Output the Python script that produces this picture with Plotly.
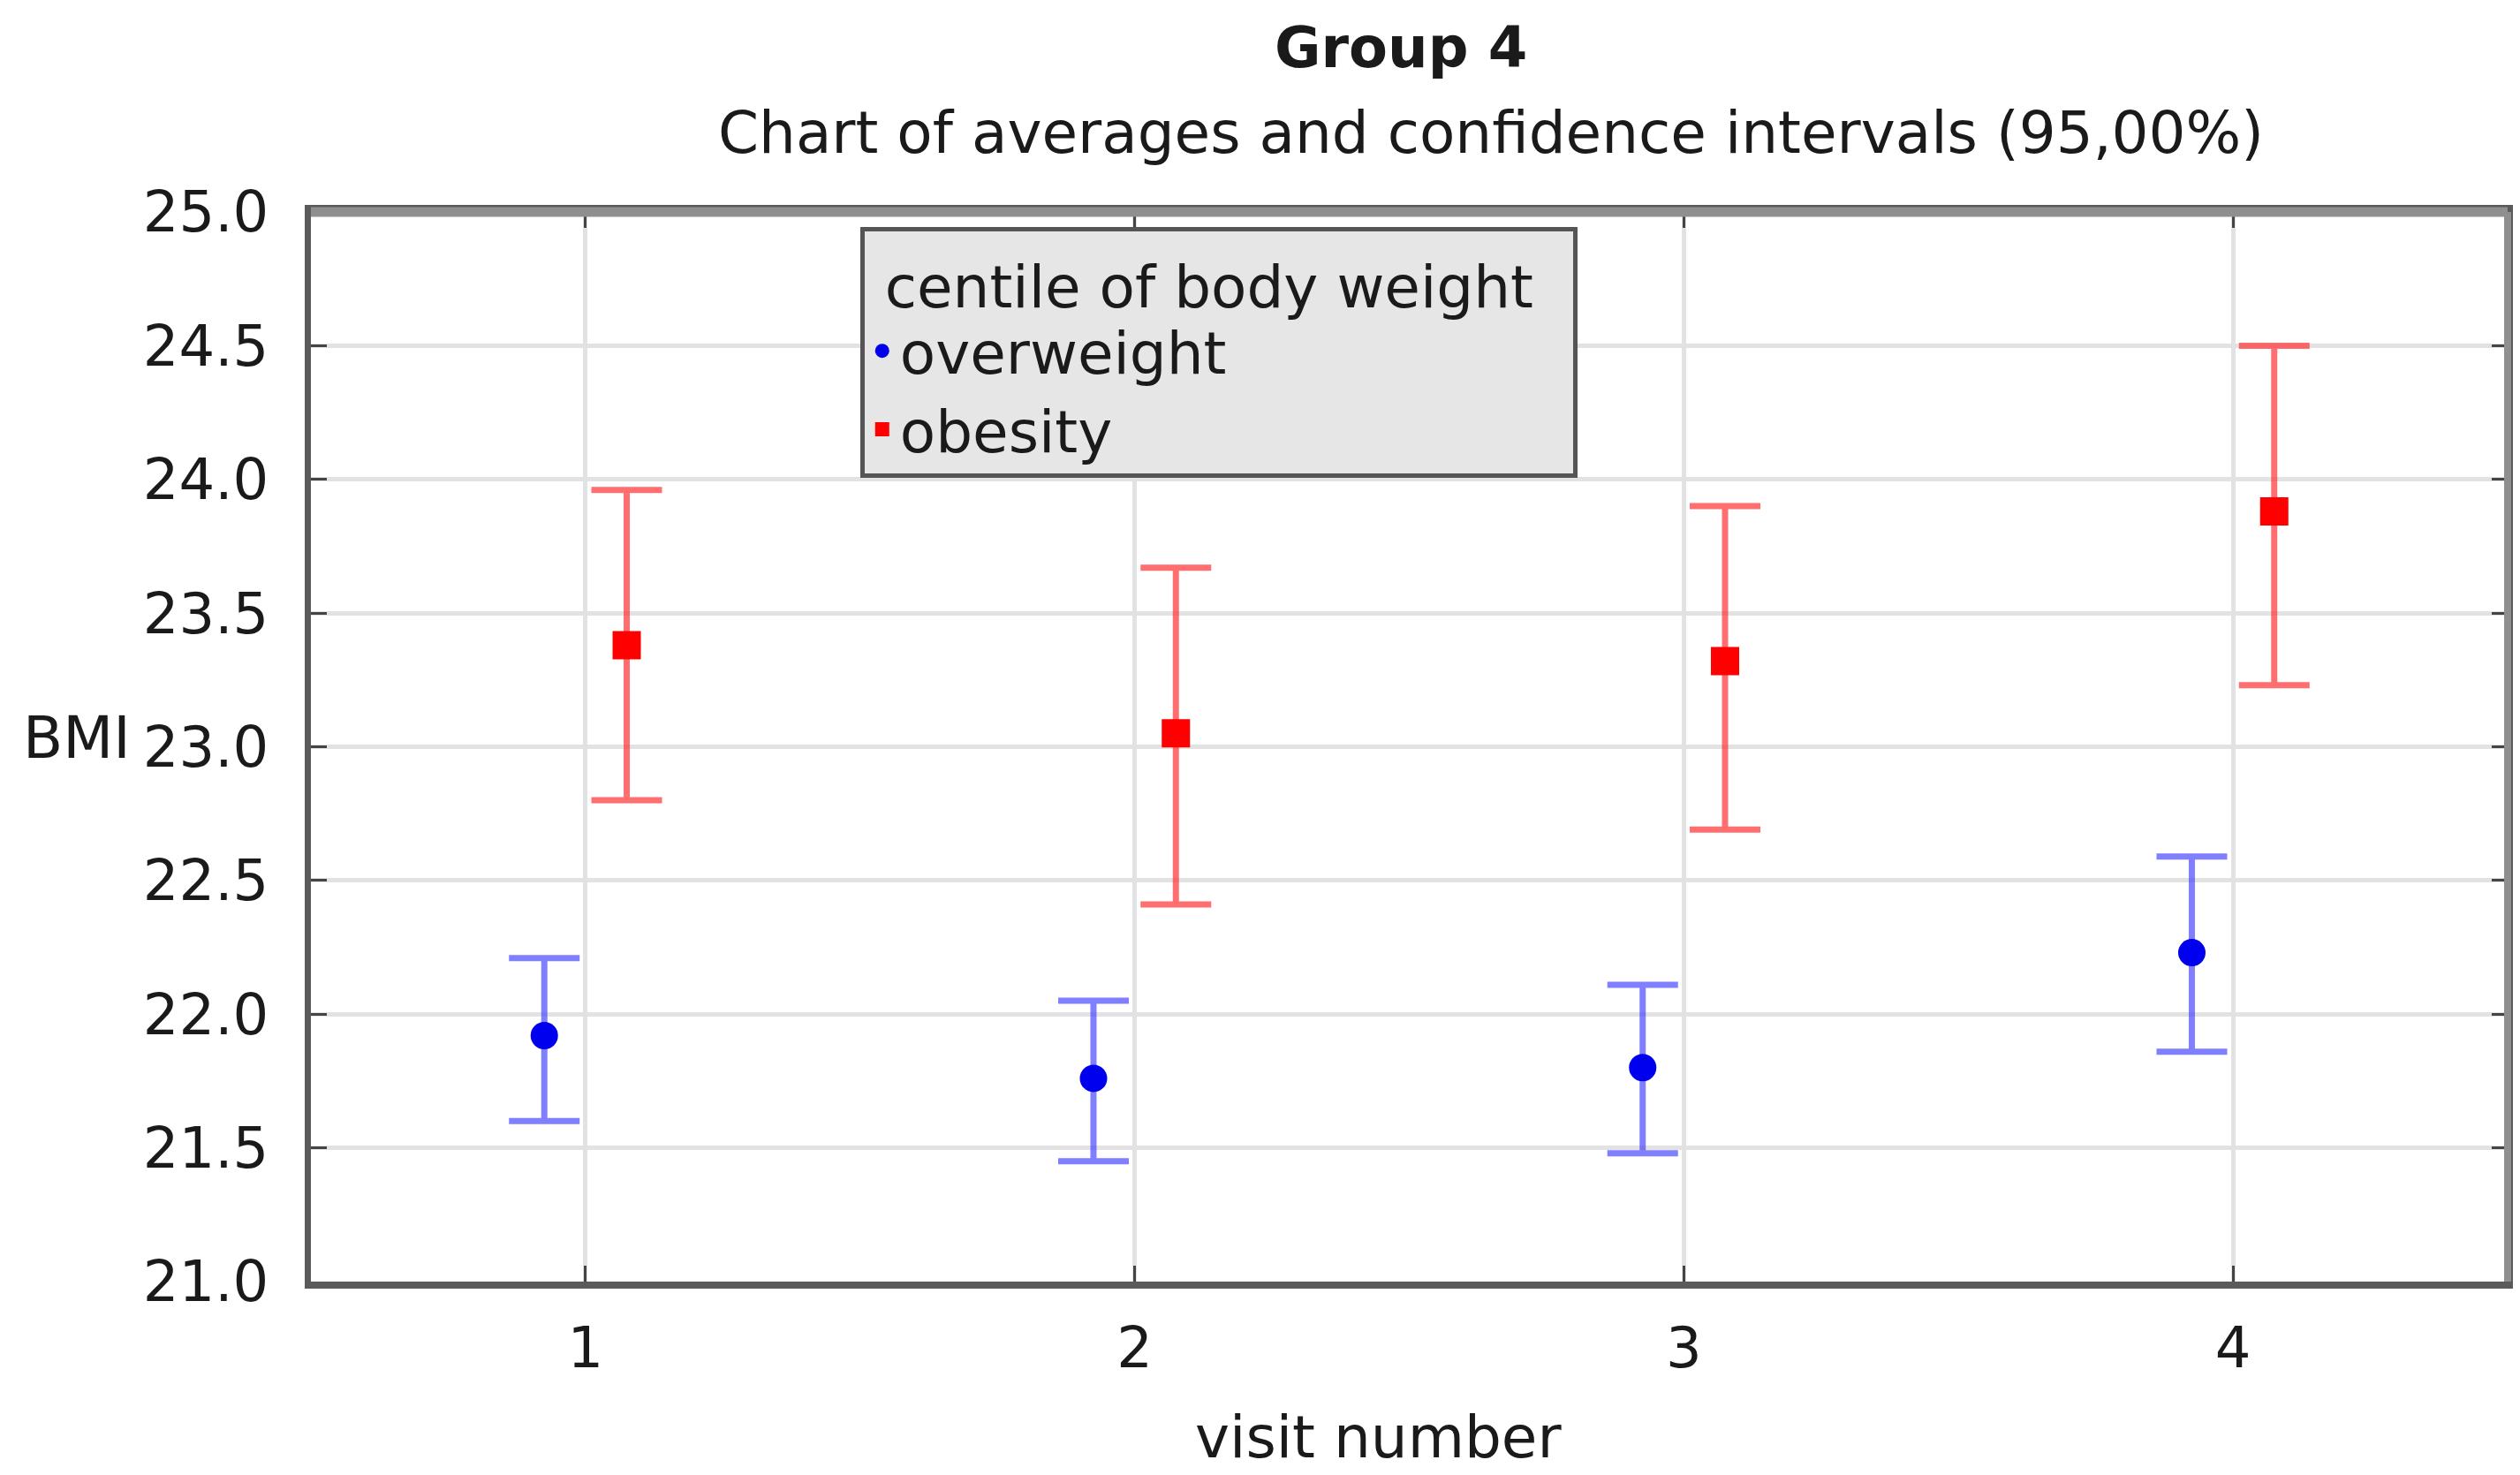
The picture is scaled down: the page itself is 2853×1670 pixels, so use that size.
import plotly.graph_objects as go

visits = [1, 2, 3, 4]
x_offset = 0.075

ow_mean = [21.92, 21.76, 21.80, 22.23]
ow_upper = [22.21, 22.05, 22.11, 22.59]
ow_lower = [21.60, 21.45, 21.48, 21.86]

ob_mean = [23.38, 23.05, 23.32, 23.88]
ob_upper = [23.96, 23.67, 23.90, 24.50]
ob_lower = [22.80, 22.41, 22.69, 23.23]

y_ticks = [21.0, 21.5, 22.0, 22.5, 23.0, 23.5, 24.0, 24.5, 25.0]

FONT = "DejaVu Sans"
TXT = "#1a1a1a"
NB = "\u00a0"

fig = go.Figure()

fig.add_trace(go.Scatter(
    x=[v - x_offset for v in visits], y=ow_mean, mode="markers", name="overweight",
    marker=dict(symbol="circle", size=31, color="#0000ee"),
    error_y=dict(type="data", symmetric=False,
                 array=[u - m for u, m in zip(ow_upper, ow_mean)],
                 arrayminus=[m - l for m, l in zip(ow_mean, ow_lower)],
                 color="rgba(60,60,255,0.65)", thickness=7, width=40),
))
fig.add_trace(go.Scatter(
    x=[v + x_offset for v in visits], y=ob_mean, mode="markers", name="obesity",
    marker=dict(symbol="square", size=32, color="#ff0000"),
    error_y=dict(type="data", symmetric=False,
                 array=[u - m for u, m in zip(ob_upper, ob_mean)],
                 arrayminus=[m - l for m, l in zip(ob_mean, ob_lower)],
                 color="rgba(255,50,50,0.7)", thickness=7, width=40),
))

fig.update_layout(
    width=2853, height=1670,
    margin=dict(l=344, r=22, t=232, b=227),
    paper_bgcolor="white", plot_bgcolor="white",
    font=dict(family=FONT, size=62, color=TXT),
    showlegend=True,
    legend=dict(
        title=dict(text=NB + "centile of body weight" + NB * 2,
                   font=dict(size=66, color=TXT)),
        font=dict(size=66, color=TXT),
        x=0.25, y=0.986, xanchor="left", yanchor="top",
        bgcolor="#e6e6e6", bordercolor="#555555", borderwidth=5,
        itemsizing="trace", tracegroupgap=0,
    ),
    xaxis=dict(
        range=[0.5, 4.5], tickmode="array", tickvals=visits,
        ticktext=[str(v) for v in visits],
        showgrid=True, gridcolor="#e2e2e2", gridwidth=5,
        ticks="inside", ticklen=18, tickwidth=3, tickcolor="#444444",
        showline=True, linecolor="#5a5a5a", linewidth=8, mirror="ticks",
        zeroline=False, ticklabelstandoff=12,
        tickfont=dict(size=64, color=TXT),
    ),
    yaxis=dict(
        range=[21.0, 25.0], tickmode="array", tickvals=y_ticks,
        ticktext=[f"{v:.1f}" for v in y_ticks],
        showgrid=True, gridcolor="#e2e2e2", gridwidth=5,
        ticks="inside", ticklen=18, tickwidth=3, tickcolor="#444444",
        showline=True, linecolor="#5a5a5a", linewidth=7, mirror="ticks",
        zeroline=False, ticklabelstandoff=28,
        tickfont=dict(size=64, color=TXT),
    ),
    shapes=[
        dict(type="line", xref="paper", yref="paper", x0=0, x1=1, y0=1, y1=1,
             line=dict(color="#8f8f8f", width=11), layer="above"),
        dict(type="line", xref="paper", yref="paper", x0=1, x1=1, y0=0, y1=1,
             line=dict(color="#8f8f8f", width=8), layer="above"),
    ],
    annotations=[
        dict(text="<b>Group 4</b>", x=0.496, y=1.0, xref="paper", yref="paper",
             yanchor="middle", yshift=186, showarrow=False,
             font=dict(size=64, color=TXT)),
        dict(text="Chart of averages and confidence intervals (95,00%)",
             x=0.537, y=1.0, xref="paper", yref="paper", yanchor="middle",
             yshift=90, showarrow=False, font=dict(size=66, color=TXT)),
        dict(text="BMI", x=0, y=0.5, xref="paper", yref="paper", xshift=-265,
             xanchor="center", yanchor="middle", yshift=10, showarrow=False,
             font=dict(size=66, color=TXT)),
        dict(text="visit number", x=0.486, y=0, xref="paper", yref="paper",
             yanchor="middle", yshift=-176, showarrow=False,
             font=dict(size=66, color=TXT)),
    ],
)

fig.write_html("out.html")
